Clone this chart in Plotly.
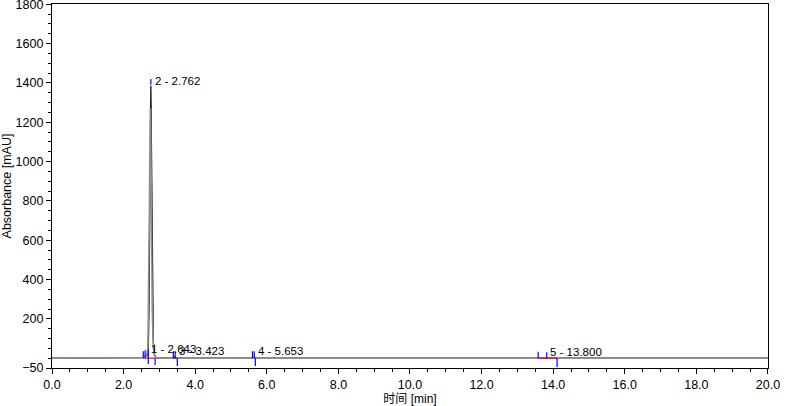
import plotly.graph_objects as go

# Chromatogram traces (time in min, absorbance in mAU)
black_t = [0.0, 2.50, 2.58, 2.62, 2.643, 2.67, 2.69, 2.71, 2.73, 2.745, 2.762, 2.775, 2.79, 2.81, 2.83, 2.86, 2.90, 3.00,
           3.38, 3.423, 3.50, 5.58, 5.653, 5.72, 13.55, 13.80, 14.10, 20.0]
black_v = [0.0, 0.0, 2.0, 10.0, 18.0, 12.0, 40.0, 250.0, 700.0, 1100.0, 1385.0, 1150.0, 750.0, 320.0, 90.0, 20.0, 4.0, 1.0,
           0.0, 6.0, 0.0, 0.0, 4.0, 0.0, 0.0, 3.0, 0.0, 0.0]

gray_t = [0.0, 2.50, 2.58, 2.62, 2.65, 2.68, 2.70, 2.72, 2.735, 2.748, 2.76, 2.775, 2.80, 2.83, 2.87, 2.92, 20.0]
gray_v = [0.0, 0.0, 2.0, 8.0, 15.0, 60.0, 300.0, 750.0, 1100.0, 1270.0, 1150.0, 750.0, 250.0, 50.0, 10.0, 0.0, 0.0]

# Peak integration marks
tick_up_t = [2.55, 2.60, 2.69, 3.39, 3.44, 5.60, 5.65, 13.58, 13.82]
tick_up_top = [35, 40, 40, 35, 35, 35, 35, 32, 30]
tick_down_t = [2.69, 2.88, 3.50, 5.68, 14.11]
tick_down_bottom = [-30, -35, -40, -40, -45]
seg_start = [2.60, 3.39, 13.58]
seg_end = [2.88, 3.50, 14.11]
peak2_tick_t = [2.762]
peak2_tick_range = [1390, 1420]

# Peak labels
label_text = ["1 - 2.643", "2 - 2.762", "3 - 3.423", "4 - 5.653", "5 - 13.800"]
label_t = [2.643, 2.762, 3.423, 5.653, 13.80]
label_v = [45, 1412, 35, 35, 32]

y_ticks = [-50, 200, 400, 600, 800, 1000, 1200, 1400, 1600, 1800]
x_ticks = [0, 2, 4, 6, 8, 10, 12, 14, 16, 18, 20]

FONT = "Liberation Sans, Arial, Noto Sans CJK SC, sans-serif"

fig = go.Figure()
fig.add_trace(go.Scatter(x=black_t, y=black_v, mode="lines",
                         line=dict(color="black", width=1.2), hoverinfo="skip"))
fig.add_trace(go.Scatter(x=gray_t, y=gray_v, mode="lines",
                         line=dict(color="#8f8f8f", width=1.6), hoverinfo="skip"))

# red baseline segments
sx, sy = [], []
for a, b in zip(seg_start, seg_end):
    sx += [a, b, None]
    sy += [0, 0, None]
fig.add_trace(go.Scatter(x=sx, y=sy, mode="lines", line=dict(color="red", width=1.2), hoverinfo="skip"))

# blue tick marks
bx, by = [], []
for t, h in zip(tick_up_t, tick_up_top):
    bx += [t, t, None]
    by += [0, h, None]
for t, h in zip(tick_down_t, tick_down_bottom):
    bx += [t, t, None]
    by += [0, h, None]
bx += [peak2_tick_t[0], peak2_tick_t[0], None]
by += [peak2_tick_range[0], peak2_tick_range[1], None]
fig.add_trace(go.Scatter(x=bx, y=by, mode="lines", line=dict(color="blue", width=1.2), hoverinfo="skip"))

for txt, t, v in zip(label_text, label_t, label_v):
    fig.add_annotation(x=t, y=v, text=txt, showarrow=False, xanchor="left", yanchor="middle",
                       xshift=2, font=dict(family=FONT, size=11.5, color="black"))

fig.update_layout(
    width=787, height=406,
    margin=dict(l=52, r=19, t=4, b=38),
    paper_bgcolor="white", plot_bgcolor="white",
    showlegend=False,
    font=dict(family=FONT, size=12, color="black"),
)
fig.update_xaxes(
    range=[0, 20.001], tickvals=x_ticks, ticktext=[f"{v:.1f}" for v in x_ticks],
    ticks="outside", ticklen=5, tickcolor="black", showgrid=False, zeroline=False,
    showline=True, linecolor="black", linewidth=1.2, mirror=True,
    minor=dict(dtick=0.5, tick0=0, ticks="outside", ticklen=3, tickcolor="black"),
    title=dict(text="时间 [min]", font=dict(family=FONT, size=12), standoff=4),
    tickfont=dict(family=FONT, size=12.5),
    ticklabeloverflow="allow",
    automargin=False,
)
fig.update_yaxes(
    range=[-50, 1801], tickvals=y_ticks,
    ticks="outside", ticklen=5, tickcolor="black", showgrid=False, zeroline=False,
    showline=True, linecolor="black", linewidth=1.2, mirror=True,
    minor=dict(dtick=50, tick0=0, ticks="outside", ticklen=3, tickcolor="black"),
    title=dict(text="Absorbance [mAU]", font=dict(family=FONT, size=12.5), standoff=2),
    tickfont=dict(family=FONT, size=12.5),
    ticklabeloverflow="allow",
    automargin=False,
)

fig.write_html("out.html", config={"displayModeBar": False},
               post_script="document.body.style.margin='0';document.body.style.padding='0';")
